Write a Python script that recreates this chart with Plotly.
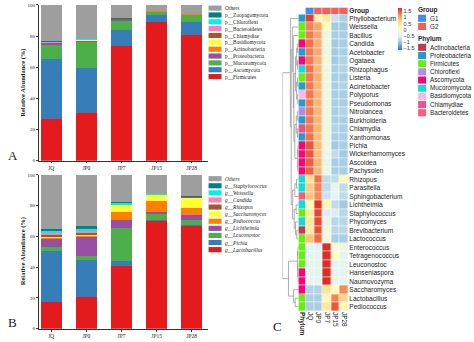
import plotly.graph_objects as go

W, H = 474, 342


def px(x):
    return x / W


def py(y):
    return 1 - y / H


samples = ["JQ", "JP0", "JP7", "JP15", "JP28"]

# ---------- Panel A: phylum-level relative abundance (%), stacked bottom to top ----------
phyla_a = ["p__Firmicutes", "p__Ascomycota", "p__Mucoromycota", "p__Proteobacteria",
           "p__Actinobacteria", "p__Basidiomycota", "p__Chlamydiae", "p__Bacteroidetes",
           "p__Chloroflexi", "p__Zoopagomycota", "Others"]
firmicutes = [26.5, 30.8, 73.4, 89.2, 80.8]
ascomycota = [39.0, 28.9, 10.6, 4.3, 8.4]
mucoromycota = [9.1, 16.9, 6.3, 2.5, 4.9]
proteobacteria = [1.0, 0.8, 0.3, 0.1, 0.1]
actinobacteria = [0.2, 0.1, 0.1, 0.05, 0.05]
basidiomycota = [0.1, 0.1, 0.05, 0.05, 0.05]
chlamydiae = [0.3, 0.3, 0.4, 0.05, 0.05]
bacteroidetes = [0.2, 0.2, 0.1, 0.05, 0.05]
chloroflexi = [0.1, 0.1, 0.05, 0.02, 0.02]
zoopagomycota = [0.1, 0.1, 0.05, 0.02, 0.02]
others_a = [23.4, 21.7, 8.65, 3.66, 5.46]
values_a = [firmicutes, ascomycota, mucoromycota, proteobacteria, actinobacteria,
            basidiomycota, chlamydiae, bacteroidetes, chloroflexi, zoopagomycota, others_a]

# ---------- Panel B: genus-level relative abundance (%), stacked bottom to top ----------
genera_b = ["g__Lactobacillus", "g__Pichia", "g__Leuconostoc", "g__Lichtheimia",
            "g__Pediococcus", "g__Saccharomyces", "g__Rhizopus", "g__Candida",
            "g__Weissella", "g__Staphylococcus", "Others"]
lactobacillus = [17.5, 20.7, 41.0, 70.5, 67.3]
pichia = [33.1, 24.2, 2.8, 0.3, 0.3]
leuconostoc = [2.2, 2.1, 21.4, 3.8, 2.9]
lichtheimia = [6.0, 12.8, 5.7, 1.5, 3.6]
pediococcus = [0.8, 1.1, 5.0, 7.2, 4.5]
saccharomyces = [0.4, 0.3, 4.7, 4.1, 6.9]
rhizopus = [1.2, 1.1, 0.2, 0.1, 0.6]
candida = [1.2, 1.5, 0.2, 0.1, 0.1]
weissella = [1.5, 1.7, 1.0, 0.1, 0.1]
staphylococcus = [0.7, 1.0, 0.2, 0.1, 0.1]
others_b = [35.4, 33.5, 17.8, 12.2, 13.6]
values_b = [lactobacillus, pichia, leuconostoc, lichtheimia, pediococcus, saccharomyces,
            rhizopus, candida, weissella, staphylococcus, others_b]

stack_colors = ["#e41a1c", "#377eb8", "#4daf4a", "#984ea3", "#ff7f00", "#ffff33",
                "#a65628", "#f781bf", "#00f0f0", "#00817f", "#9e9e9e"]

# ---------- Panel C: clustered heatmap of row z-scores ----------
genera_c = ["Phyllobacterium", "Weissella", "Bacillus", "Candida", "Acetobacter", "Ogataea",
            "Rhizophagus", "Listeria", "Acinetobacter", "Polyporus", "Pseudomonas",
            "Nitrolancea", "Burkholderia", "Chlamydia", "Xanthomonas", "Pichia",
            "Wickerhamomyces", "Ascoidea", "Pachysolen", "Rhizopus", "Parasitella",
            "Sphingobacterium", "Lichtheimia", "Staphylococcus", "Phycomyces",
            "Brevibacterium", "Lactococcus", "Enterococcus", "Tetragenococcus",
            "Leuconostoc", "Hanseniaspora", "Naumovozyma", "Saccharomyces",
            "Lactobacillus", "Pediococcus"]
zscores = [
    [1.65, 0.25, 0.45, -0.75, -0.95],
    [1.25, 1.0, 0.1, -1.0, -1.0],
    [1.3, 1.0, -0.35, -0.95, -0.95],
    [1.35, 0.95, -0.3, -1.0, -0.95],
    [1.3, 1.0, -0.3, -1.0, -0.95],
    [1.3, 0.9, -0.25, -1.0, -0.9],
    [1.35, 0.9, -0.35, -0.95, -0.9],
    [1.3, 0.95, -0.3, -0.95, -0.95],
    [1.3, 0.9, -0.3, -0.95, -0.9],
    [1.3, 0.9, -0.3, -0.95, -0.95],
    [1.3, 0.9, -0.3, -0.95, -0.95],
    [1.3, 0.9, -0.3, -0.95, -0.9],
    [1.3, 0.9, -0.3, -0.95, -0.95],
    [1.3, 0.9, -0.3, -0.9, -0.95],
    [1.35, 0.85, -0.3, -0.95, -0.95],
    [1.5, 0.85, -0.3, -1.0, -0.95],
    [1.5, 0.85, -0.35, -0.8, -1.0],
    [1.45, 0.9, -0.4, -0.95, -0.95],
    [1.45, 0.9, -0.35, -0.95, -0.95],
    [0.6, 1.35, -0.8, -0.8, 0.15],
    [0.75, 1.25, -0.8, -0.35, -0.8],
    [0.8, 1.2, -0.7, -0.5, -0.8],
    [0.15, 1.7, 0.15, -0.8, -1.0],
    [0.45, 1.6, -0.6, -0.6, -0.85],
    [0.5, 1.6, -0.4, -0.85, -0.85],
    [0.4, 1.55, -0.25, -0.85, -0.85],
    [0.8, 1.4, -0.25, -0.95, -0.95],
    [-0.55, -0.55, 1.8, -0.15, -0.35],
    [-0.5, -0.5, 1.8, -0.05, -0.45],
    [-0.45, -0.45, 1.8, -0.45, -0.45],
    [-0.45, -0.45, 1.8, -0.45, -0.45],
    [-0.45, -0.45, 1.8, -0.45, -0.45],
    [-0.9, -0.9, 0.55, 0.1, 1.2],
    [-0.95, -0.95, 0.15, 1.25, 0.65],
    [-0.95, -0.95, 0.45, 1.5, 0.15],
]

phylum_names = ["Actinobacteria", "Proteobacteria", "Firmicutes", "Chloroflexi", "Ascomycota",
                "Mucoromycota", "Basidiomycota", "Chlamydiae", "Bacteroidetes"]
phylum_colors = ["#c13a52", "#1f9dcc", "#66ee11", "#b48be6", "#f2057f",
                 "#11dcdc", "#f5b9f0", "#f0508c", "#f85b80"]
row_phylum = ["Proteobacteria", "Firmicutes", "Firmicutes", "Ascomycota", "Proteobacteria",
              "Ascomycota", "Mucoromycota", "Firmicutes", "Proteobacteria", "Basidiomycota",
              "Proteobacteria", "Chloroflexi", "Proteobacteria", "Chlamydiae", "Proteobacteria",
              "Ascomycota", "Ascomycota", "Ascomycota", "Ascomycota", "Mucoromycota",
              "Mucoromycota", "Bacteroidetes", "Mucoromycota", "Firmicutes", "Mucoromycota",
              "Actinobacteria", "Firmicutes", "Firmicutes", "Firmicutes", "Firmicutes",
              "Ascomycota", "Ascomycota", "Ascomycota", "Firmicutes", "Firmicutes"]

group_names = ["G1", "G2"]
group_colors = ["#3f8fe4", "#f2605b"]
sample_group = ["G1", "G2", "G2", "G2", "G2"]

# Row dendrogram: (height, left, right) nodes, integer leaves = row index
yeasts4 = (0.06, (0.03, 15, 16), (0.03, 17, 18))
upper = (0.38, 1, (0.32, 2, (0.28,
                             (0.18, (0.11, (0.06, 3, 4), (0.06, 5, 6)),
                              (0.11, (0.06, 7, 8), (0.06, 9, 10))),
                             (0.22, (0.13, (0.06, 11, 12), (0.06, 13, 14)), yeasts4))))
middle = (0.36, (0.22, (0.12, 19, 20), 21), (0.26, (0.14, 22, 23), (0.18, 24, (0.1, 25, 26))))
lower = (0.62, (0.06, (0.03, 27, 28), (0.04, 29, (0.02, 30, 31))), (0.3, 32, (0.2, 33, 34)))
row_tree = (1.0, (0.5, 0, (0.45, upper, middle)), lower)

serif = "Liberation Serif, Times New Roman, serif"
sans = "Liberation Sans, Arial, sans-serif"

fig = go.Figure()

# ---------- stacked bars ----------
for vals, name, col in zip(values_a, phyla_a, stack_colors):
    fig.add_trace(go.Bar(x=samples, y=vals, name=name, marker=dict(color=col, line=dict(width=0)),
                         width=0.6, xaxis="x", yaxis="y", showlegend=False))
for vals, name, col in zip(values_b, genera_b, stack_colors):
    fig.add_trace(go.Bar(x=samples, y=vals, name=name, marker=dict(color=col, line=dict(width=0)),
                         width=0.6, xaxis="x2", yaxis="y2", showlegend=False))

# ---------- heatmap ----------
rdylbu = [[0.0, "#4575b4"], [1 / 6, "#91bfdb"], [2 / 6, "#e0f3f8"], [3 / 6, "#ffffbf"],
          [4 / 6, "#fee090"], [5 / 6, "#fc8d59"], [1.0, "#d73027"]]
rows_idx = list(range(len(genera_c)))
fig.add_trace(go.Heatmap(
    z=zscores, x=list(range(len(samples))), y=rows_idx, colorscale=rdylbu,
    zmin=-1.7, zmax=1.75, xgap=0.6, ygap=0.6, xaxis="x3", yaxis="y3",
    colorbar=dict(x=px(398), xanchor="left", y=py(6.5), yanchor="top",
                  lenmode="pixels", len=42, thicknessmode="pixels", thickness=4,
                  outlinewidth=0, xpad=0, ypad=0, ticks="",
                  tickvals=[1.5, 1, 0.5, 0, -0.5, -1, -1.5],
                  ticktext=["1.5", "1", "0.5", "0", "\u22120.5", "\u22121", "\u22121.5"],
                  tickfont=dict(size=5.5, family=sans, color="#333"))))


def discrete_scale(colors):
    n = len(colors) - 1
    return [[i / n, c] for i, c in enumerate(colors)]


fig.add_trace(go.Heatmap(
    z=[[phylum_names.index(p)] for p in row_phylum], x=[0], y=rows_idx,
    colorscale=discrete_scale(phylum_colors), zmin=0, zmax=len(phylum_names) - 1,
    showscale=False, ygap=0.6, xaxis="x4", yaxis="y3"))

fig.add_trace(go.Heatmap(
    z=[[group_names.index(g) for g in sample_group]], x=list(range(len(samples))), y=[0],
    colorscale=discrete_scale(group_colors), zmin=0, zmax=1, showscale=False,
    xgap=0.6, xaxis="x3", yaxis="y4"))

# dendrogram segments computed from the tree
seg_x, seg_y = [], []


def layout_node(node):
    if isinstance(node, int):
        return 0.0, float(node)
    h, left, right = node
    hl, yl = layout_node(left)
    hr, yr = layout_node(right)
    seg_x.extend([hl, h, h, hr, None])
    seg_y.extend([yl, yl, yr, yr, None])
    return h, (yl + yr) / 2


layout_node(row_tree)
fig.add_trace(go.Scatter(x=seg_x, y=seg_y, mode="lines", line=dict(color="#8c8c8c", width=0.7),
                         xaxis="x5", yaxis="y3", showlegend=False, hoverinfo="skip"))

# ---------- axes ----------
bar_x = dict(type="category", range=[-0.35, 4.45], showline=True, linecolor="#333", linewidth=0.7,
             ticks="outside", ticklen=2, tickwidth=0.6, tickcolor="#333",
             tickfont=dict(size=5.5, family=serif, color="#222"), showgrid=False, zeroline=False,
             fixedrange=True)
bar_y = dict(range=[0, 100], tickvals=[0, 20, 40, 60, 80, 100], showline=True, linecolor="#333",
             linewidth=0.7, ticks="outside", ticklen=2, tickwidth=0.6, tickcolor="#333",
             tickfont=dict(size=5, family=serif, color="#222"), showgrid=False, zeroline=False)

n_rows = len(genera_c)
fig.update_layout(
    width=W, height=H, margin=dict(l=0, r=0, t=0, b=0), paper_bgcolor="white",
    plot_bgcolor="white", barmode="stack", bargap=0.4,
    xaxis=dict(domain=[px(38), px(207)], anchor="y", **bar_x),
    yaxis=dict(domain=[py(161), py(3)], anchor="x", **bar_y),
    xaxis2=dict(domain=[px(38), px(207)], anchor="y2", **bar_x),
    yaxis2=dict(domain=[py(331.5), py(175.5)], anchor="x2", **bar_y),
    xaxis3=dict(domain=[px(305), px(348)], anchor="y3", range=[-0.5, 4.5],
                tickvals=list(range(len(samples))), ticktext=samples, tickangle=90,
                tickfont=dict(size=6.5, family=sans, color="#222"), showgrid=False,
                zeroline=False, showline=False, ticks=""),
    yaxis3=dict(domain=[py(313.5), py(12.5)], anchor="x3", range=[n_rows - 0.5, -0.5],
                side="right", tickvals=rows_idx, ticktext=genera_c,
                tickfont=dict(size=6.6, family=sans, color="#222"), showgrid=False,
                zeroline=False, showline=False, ticks=""),
    xaxis4=dict(domain=[px(298), px(305)], anchor="y3", range=[-0.5, 0.5], tickvals=[0],
                ticktext=["<b>Phylum</b>"], tickangle=90,
                tickfont=dict(size=6.5, family=sans, color="#222"), showgrid=False,
                zeroline=False, showline=False, ticks=""),
    yaxis4=dict(domain=[py(12.5), py(5.5)], anchor="x3", range=[-0.5, 0.5], side="right",
                tickvals=[0], ticktext=["<b>Group</b>"],
                tickfont=dict(size=6.6, family=sans, color="#222"), showgrid=False,
                zeroline=False, showline=False, ticks=""),
    xaxis5=dict(domain=[px(282), px(298)], anchor="y3", range=[1.0, 0.0], visible=False),
)

annotations = []
shapes = []


def label(x, y, text, size, family, xanchor="left", **extra):
    annotations.append(dict(x=px(x), y=py(y), xref="paper", yref="paper", text=text,
                            xanchor=xanchor, yanchor="middle", showarrow=False, borderpad=0,
                            font=dict(size=size, family=family, color="#222"), **extra))


# axis titles and panel letters
for yc in (82, 253):
    label(22, yc, "<b>Relative Abundance (%)</b>", 6.5, serif, xanchor="center", textangle=-90)
for letter, xc, yc in (("A", 12, 156), ("B", 12, 325), ("C", 277, 329)):
    label(xc, yc, letter, 13, serif, xanchor="center")


# legends for the stacked bar panels (top entry = top of stack)
def bar_legend(names, top, step, italic):
    for i, (name, col) in enumerate(zip(names[::-1], stack_colors[::-1])):
        yc = top + i * step
        shapes.append(dict(type="rect", xref="paper", yref="paper", x0=px(208), x1=px(221),
                           y0=py(yc + 2.6), y1=py(yc - 2.6), fillcolor=col, line=dict(width=0)))
        label(223, yc, "<i>" + name + "</i>" if italic else name, 5.4, serif)


bar_legend(phyla_a, 6.2, 6.95, False)
bar_legend(genera_b, 179.3, 7.2, True)

# heatmap annotation legends
label(417, 8.5, "<b>Group</b>", 6.5, sans)
for i, (g, col) in enumerate(zip(group_names, group_colors)):
    yc = 16.5 + i * 8.3
    shapes.append(dict(type="rect", xref="paper", yref="paper", x0=px(418), x1=px(426),
                       y0=py(yc + 3.6), y1=py(yc - 3.6), fillcolor=col, line=dict(width=0)))
    label(428.5, yc, g, 6.3, sans)
label(417, 37.5, "<b>Phylum</b>", 6.5, sans)
for i, (p, col) in enumerate(zip(phylum_names, phylum_colors)):
    yc = 46 + i * 8.3
    shapes.append(dict(type="rect", xref="paper", yref="paper", x0=px(418), x1=px(426),
                       y0=py(yc + 3.6), y1=py(yc - 3.6), fillcolor=col, line=dict(width=0)))
    label(428.5, yc, p, 6.3, sans)

fig.update_layout(annotations=annotations, shapes=shapes)
fig.write_html("out.html")
